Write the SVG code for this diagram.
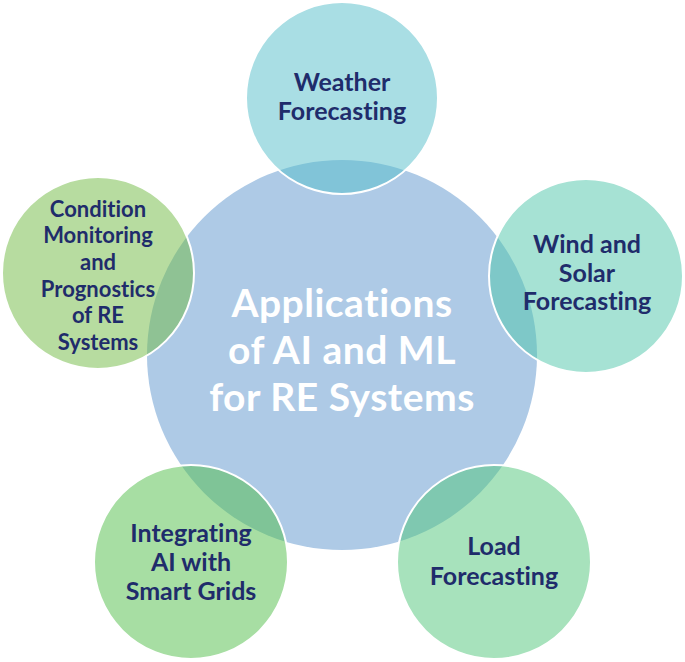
<svg xmlns="http://www.w3.org/2000/svg" width="685" height="662" viewBox="0 0 685 662">
<style>
.hub{fill:#aecae6}
.node{fill-opacity:0.5;stroke:#ffffff;stroke-width:2}
.lbl{font-family:Lato,"Open Sans",sans-serif;font-weight:700;font-size:25px;fill:#1f2c6b;text-anchor:middle;font-variant-ligatures:none}
.lbl-s{font-size:22px}
.hubtxt{font-family:Lato,"Open Sans",sans-serif;font-weight:700;font-size:39px;letter-spacing:0.5px;fill:#ffffff;text-anchor:middle;font-variant-ligatures:none}
</style>
<rect width="685" height="662" fill="#ffffff"/>
<g id="center">
<circle class="hub" cx="342" cy="355" r="195"/>
<text class="hubtxt" x="342" y="317">Applications</text>
<text class="hubtxt" x="342" y="364">of AI and ML</text>
<text class="hubtxt" x="342" y="411">for RE Systems</text>
</g>
<g id="weather">
<circle class="node" cx="342" cy="98" r="96" fill="#53bdc9"/>
<text class="lbl" x="342" y="91">Weather</text>
<text class="lbl" x="342" y="120">Forecasting</text>
</g>
<g id="wind-solar">
<circle class="node" cx="586" cy="276" r="97" fill="#4dc5a9"/>
<text class="lbl" x="587" y="253">Wind and</text>
<text class="lbl" x="587" y="282">Solar</text>
<text class="lbl" x="587" y="310">Forecasting</text>
</g>
<g id="load">
<circle class="node" cx="494" cy="562" r="97" fill="#4fc579"/>
<text class="lbl" x="494" y="555">Load</text>
<text class="lbl" x="494" y="585">Forecasting</text>
</g>
<g id="smart-grids">
<circle class="node" cx="191" cy="562" r="97" fill="#4fbd47"/>
<text class="lbl" x="191" y="542">Integrating</text>
<text class="lbl" x="191" y="571">AI with</text>
<text class="lbl" x="191" y="600">Smart Grids</text>
</g>
<g id="condition">
<circle class="node" cx="98" cy="273" r="96" fill="#6fb941"/>
<text class="lbl lbl-s" x="98" y="217">Condition</text>
<text class="lbl lbl-s" x="98" y="243">Monitoring</text>
<text class="lbl lbl-s" x="98" y="270">and</text>
<text class="lbl lbl-s" x="98" y="297">Prognostics</text>
<text class="lbl lbl-s" x="98" y="323">of RE</text>
<text class="lbl lbl-s" x="98" y="350">Systems</text>
</g>
<g id="connectors"></g>
</svg>
